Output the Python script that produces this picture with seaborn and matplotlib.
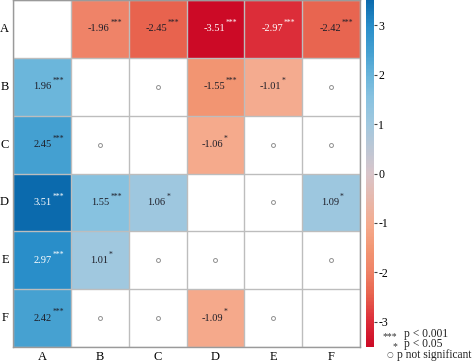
import numpy as np
import pandas as pd
import matplotlib
matplotlib.use("Agg")
import matplotlib.pyplot as plt
import seaborn as sns
from matplotlib.colors import LinearSegmentedColormap

groups = ["A", "B", "C", "D", "E", "F"]

# effect values (row vs column), nan = diagonal / not shown
values = [
    [np.nan, -1.96, -2.45, -3.51, -2.97, -2.42],
    [1.96, np.nan, np.nan, -1.55, -1.01, np.nan],
    [2.45, np.nan, np.nan, -1.06, np.nan, np.nan],
    [3.51, 1.55, 1.06, np.nan, np.nan, 1.09],
    [2.97, 1.01, np.nan, np.nan, np.nan, np.nan],
    [2.42, np.nan, np.nan, -1.09, np.nan, np.nan],
]
# significance: "***", "*", "ns" or "" (diagonal)
signif = [
    ["", "***", "***", "***", "***", "***"],
    ["***", "", "ns", "***", "*", "ns"],
    ["***", "ns", "", "*", "ns", "ns"],
    ["***", "***", "*", "", "ns", "*"],
    ["***", "*", "ns", "ns", "", "ns"],
    ["***", "ns", "ns", "*", "ns", ""],
]

legend_marks = ["***", "*", "\u25cb"]
legend_texts = ["p < 0.001", "p < 0.05", "p not significant"]

df = pd.DataFrame(values, index=groups, columns=groups)

plt.rcParams["font.family"] = ["Liberation Serif", "DejaVu Serif"]
plt.rcParams["axes.unicode_minus"] = False

cmap = LinearSegmentedColormap.from_list(
    "rdgybu",
    [(0.0, "#cc0a26"), (0.077, "#dd2e3a"), (0.151, "#e8644f"), (0.221, "#ef8468"),
     (0.279, "#f29572"), (0.349, "#f5aa8c"), (0.5, "#d9c5ca"),
     (0.644, "#a0c8df"), (0.72, "#88c2e0"), (0.779, "#6cb6db"),
     (0.849, "#45a0d1"), (0.923, "#2a8fca"), (1.0, "#0b6aad")])

fig = plt.figure(figsize=(4.74, 3.64), dpi=100)
ax = fig.add_axes([13 / 474, 17 / 364, 347 / 474, 347 / 364])
cax = fig.add_axes([366 / 474, 17 / 364, 8 / 474, 347 / 364])

sns.heatmap(df, ax=ax, cbar_ax=cax, cmap=cmap, vmin=-3.51, vmax=3.51,
            mask=df.isna(), square=False)

# grid lines between all cells
n = len(groups)
for k in range(n + 1):
    ax.axhline(k, color="#bdbdbd", lw=1)
    ax.axvline(k, color="#bdbdbd", lw=1)
for side in ["left", "bottom", "right", "top"]:
    ax.spines[side].set_visible(True)
    ax.spines[side].set_color("#9a9a9a")
    ax.spines[side].set_linewidth(1)

for i in range(n):
    for j in range(n):
        s = signif[i][j]
        v = values[i][j]
        cx, cy = j + 0.5, i + 0.5
        if s == "ns":
            ax.scatter(cx, cy, s=8, facecolor="white", edgecolor="#909090",
                       linewidth=0.7, zorder=3)
        elif s:
            col = "white" if abs(v) > 2.9 else "#1e1e28"
            off = 0.17 if s == "***" else 0.14
            ax.text(cx + off, cy, f"{v:.2f}", ha="right", va="center",
                    fontsize=7.5, color=col)
            ax.text(cx + off + 0.01, cy - 0.1, s, ha="left", va="center",
                    fontsize=5.5, color=col)

ax.set_xlabel("")
ax.set_ylabel("")
ax.tick_params(axis="both", length=0, labelsize=9, pad=3)
ax.set_yticklabels(groups, rotation=0)
ax.set_xticklabels(groups, rotation=0)

cax.set_yticks([-3, -2, -1, 0, 1, 2, 3])
cax.tick_params(length=2, labelsize=8.5, pad=1, color="#444444")

# significance key, bottom right
key_x = [389.5, 395, 390]
key_tx = [404, 404, 397]
key_y = [334, 344.5, 355]
for m, t, mx, tx, y in zip(legend_marks, legend_texts, key_x, key_tx, key_y):
    if m == "\u25cb":
        fig.text(mx / 474, 1 - y / 364, m, ha="center", va="center", fontsize=5.5,
                 color="#555555", family=["DejaVu Sans"])
    else:
        fig.text(mx / 474, 1 - (y + 2.5) / 364, m, ha="center", va="center",
                 fontsize=7, color="#333333")
    fig.text(tx / 474, 1 - y / 364, t, ha="left", va="center", fontsize=8.3,
             color="#222222")

fig.savefig("out.png", dpi=100)
